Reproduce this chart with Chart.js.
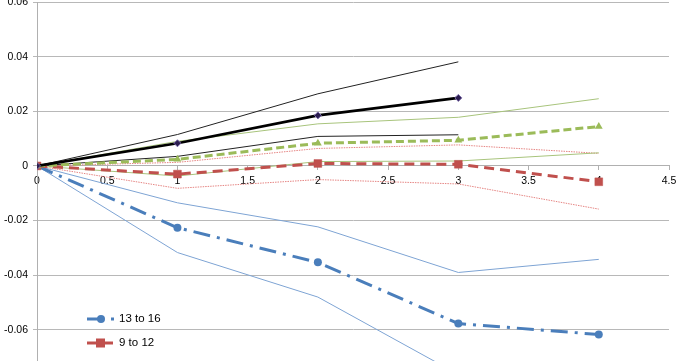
<!DOCTYPE html>
<html>
<head>
<meta charset="utf-8">
<script src="https://cdn.jsdelivr.net/npm/chart.js@4/dist/chart.umd.min.js"></script>
<style>
  html, body { margin: 0; padding: 0; background: #fff; }
  #wrap { width: 688px; height: 361px; position: relative; }
</style>
</head>
<body>
<div id="wrap"><canvas id="c" width="688" height="361"></canvas></div>
<script>
// ---- data ----
const xValues = [0, 1, 2, 3, 4];
const xTicks = [0, 0.5, 1, 1.5, 2, 2.5, 3, 3.5, 4, 4.5];
const yTicks = [-0.06, -0.04, -0.02, 0, 0.02, 0.04, 0.06];
const yMin = -0.0714, yMax = 0.06, xMin = 0, xMax = 4.5;

const blackMain  = [0, 0.0083, 0.0185, 0.0249];
const blackUpper = [0, 0.0115, 0.0264, 0.0381];
const blackLower = [0, 0.0035, 0.0108, 0.0114];

const greenMain  = [0, 0.0024, 0.0083, 0.0094, 0.0144];
const greenUpper = [0, 0.0090, 0.0154, 0.0178, 0.0246];
const greenLower = [0, -0.0037, 0.0016, 0.0018, 0.0048];

const redMain  = [0, -0.0030, 0.0009, 0.0006, -0.0058];
const redUpper = [0, 0.0013, 0.0064, 0.0077, 0.0046];
const redLower = [0, -0.0082, -0.0050, -0.0066, -0.0158];

const blueMain  = [0, -0.0226, -0.0353, -0.0577, -0.0617];
const blueUpper = [0, -0.0135, -0.0223, -0.0390, -0.0342];
const blueLower = [0, -0.0317, -0.0480, -0.0763];

const legendNames = ['13 to 16', '9 to 12'];

function pts(arr) { return arr.map((v, i) => ({ x: xValues[i], y: v })); }

const BLUE = '#4a7ebb', RED = '#c0504d', GREEN = '#9bbb59';

const datasets = [
  { label: 'black', data: pts(blackMain), borderColor: '#000', borderWidth: 2.6,
    pointStyle: 'rectRot', pointRadius: 3.5, pointBackgroundColor: '#2b1d4f', pointBorderColor: '#7a6aa8', pointBorderWidth: 1 },
  { label: 'green', data: pts(greenMain), borderColor: GREEN, borderWidth: 3, borderDash: [8, 4],
    pointStyle: 'triangle', pointRadius: 4.5, pointBackgroundColor: GREEN, pointBorderColor: GREEN, pointBorderWidth: 0 },
  { label: legendNames[1], data: pts(redMain), borderColor: RED, borderWidth: 3, borderDash: [10, 6],
    pointStyle: 'rect', pointRadius: 5.5, pointBackgroundColor: RED, pointBorderColor: 'rgba(192,80,77,0.5)', pointBorderWidth: 1 },
  { label: legendNames[0], data: pts(blueMain), borderColor: BLUE, borderWidth: 3, borderDash: [17, 7, 3, 7],
    pointStyle: 'circle', pointRadius: 4, pointBackgroundColor: BLUE, pointBorderColor: BLUE, pointBorderWidth: 0 },
  { label: 'black hi', data: pts(blackUpper), borderColor: '#222', borderWidth: 1, pointRadius: 0 },
  { label: 'black lo', data: pts(blackLower), borderColor: '#222', borderWidth: 1, pointRadius: 0 },
  { label: 'green hi', data: pts(greenUpper), borderColor: '#a8c47c', borderWidth: 1, pointRadius: 0 },
  { label: 'green lo', data: pts(greenLower), borderColor: '#a8c47c', borderWidth: 1, pointRadius: 0 },
  { label: 'red hi', data: pts(redUpper), borderColor: '#e58583', borderWidth: 1, borderDash: [1.5, 1], pointRadius: 0 },
  { label: 'red lo', data: pts(redLower), borderColor: '#e58583', borderWidth: 1, borderDash: [1.5, 1], pointRadius: 0 },
  { label: 'blue hi', data: pts(blueUpper), borderColor: '#7ea4d4', borderWidth: 1, pointRadius: 0 },
  { label: 'blue lo', data: pts(blueLower), borderColor: '#7ea4d4', borderWidth: 1, pointRadius: 0 }
];
datasets.forEach(d => { d.fill = false; d.tension = 0; d.showLine = true; });

const FONT = 'Liberation Sans';

const legendPlugin = {
  id: 'insideLegend',
  afterDraw(chart) {
    const ctx = chart.ctx;
    const entries = [
      { ds: chart.data.datasets[3], y: 319 },
      { ds: chart.data.datasets[2], y: 343 }
    ];
    ctx.save();
    entries.forEach(e => {
      const ds = e.ds;
      ctx.strokeStyle = ds.borderColor;
      ctx.lineWidth = 3;
      ctx.setLineDash(ds.pointStyle === 'circle' ? [17, 7, 3, 7] : []);
      ctx.beginPath();
      ctx.moveTo(87, e.y);
      ctx.lineTo(ds.pointStyle === 'circle' ? 117 : 113, e.y);
      ctx.stroke();
      ctx.setLineDash([]);
      ctx.fillStyle = ds.pointBackgroundColor;
      if (ds.pointStyle === 'circle') {
        ctx.beginPath(); ctx.arc(101, e.y, 4, 0, Math.PI * 2); ctx.fill();
      } else {
        ctx.fillRect(96, e.y - 4.5, 9, 9);
      }
      ctx.fillStyle = '#000';
      ctx.font = '11.5px "' + FONT + '"';
      ctx.textBaseline = 'middle';
      ctx.textAlign = 'left';
      ctx.fillText(ds.label, 119, e.y);
    });
    ctx.restore();
  }
};

new Chart(document.getElementById('c'), {
  type: 'line',
  data: { datasets },
  options: {
    responsive: false,
    animation: false,
    layout: { autoPadding: false, padding: { left: 0, right: 19, top: 2, bottom: 0 } },
    plugins: { legend: { display: false }, tooltip: { enabled: false } },
    scales: {
      x: {
        type: 'linear',
        position: { y: 0 },
        min: xMin, max: xMax,
        afterBuildTicks: s => { s.min = xMin; s.max = xMax; s.ticks = xTicks.map(v => ({ value: v })); },
        afterFit: s => { s.paddingLeft = 0; s.paddingRight = 0; s.paddingTop = 0; s.paddingBottom = 0; },
        grid: { drawOnChartArea: false, drawTicks: true, tickLength: 4, color: '#b0b0b0' },
        border: { color: '#b0b0b0', width: 1 },
        ticks: { color: '#000', font: { family: FONT, size: 10.5 }, padding: 5, maxRotation: 0, autoSkip: false,
                 callback: v => String(v) }
      },
      y: {
        type: 'linear',
        position: 'left',
        min: yMin, max: yMax,
        afterBuildTicks: s => { s.min = yMin; s.max = yMax; s.ticks = yTicks.map(v => ({ value: v })); },
        afterFit: s => { s.width = 37; s.paddingTop = 0; s.paddingBottom = 0; },
        grid: { color: '#b8b8b8', lineWidth: 1, drawTicks: true, tickLength: 4 },
        border: { color: '#b0b0b0', width: 1 },
        ticks: { color: '#000', font: { family: FONT, size: 10.5 }, padding: 5,
                 callback: v => (Math.abs(v) < 1e-9 ? '0' : v.toFixed(2)) }
      }
    }
  },
  plugins: [legendPlugin]
});
</script>
</body>
</html>
